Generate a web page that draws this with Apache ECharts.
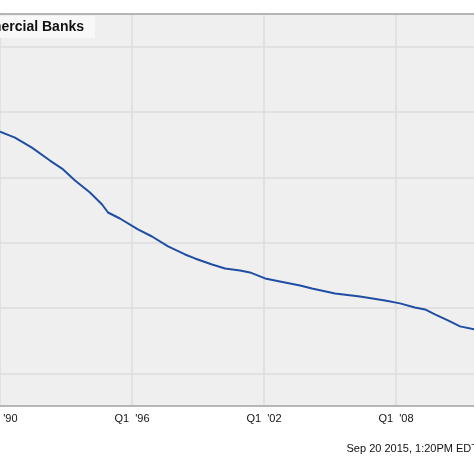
<!DOCTYPE html>
<html><head><meta charset="utf-8">
<script src="https://cdn.jsdelivr.net/npm/echarts@6/dist/echarts.min.js"></script>
<style>html,body{margin:0;padding:0;background:#fff}#c{width:474px;height:474px}</style>
</head><body><div id="c"></div>
<script>
// x: years since Q1 1990
const years = [0,0.68,1.45,2.27,2.82,3.41,4.09,4.64,4.91,5.45,6.27,6.91,7.64,8.41,8.86,9.64,10.23,10.91,11.36,12.05,12.95,13.64,14.18,15.23,16.36,17.5,18.18,18.86,19.32,19.77,20.36,20.91,21.55,22.1];
const banks = [11400,11217,10911,10514,10269,9902,9535,9168,8923,8740,8404,8189,7884,7639,7517,7333,7211,7150,7089,6905,6783,6691,6599,6446,6355,6232,6141,6018,5957,5804,5621,5437,5346,5250];
const titleText = 'Commercial Banks';
const stampText = 'Sep 20 2015, 1:20PM EDT';
const chart = echarts.init(document.getElementById('c'));
chart.setOption({
  animation:false,
  grid:{left:-132,top:14,width:660,height:392,show:true,backgroundColor:'#efefef',borderWidth:0,
    containLabel:false,outerBoundsMode:'none'},
  xAxis:{type:'value',min:-6,max:24,interval:6,
    axisLine:{show:true,lineStyle:{color:'#b5b5b5',width:2}},axisTick:{show:false},
    axisLabel:{color:'#111',fontSize:11,fontFamily:'Liberation Sans',margin:7,
      formatter:v=>"Q1  '"+String((1990+v)%100).padStart(2,'0')},
    splitLine:{show:true,lineStyle:{color:'#dcdcdc',width:1.5}}},
  yAxis:{type:'value',min:3000,max:15000,splitNumber:6,
    axisLine:{show:false},axisTick:{show:false},axisLabel:{show:false},
    splitLine:{show:true,lineStyle:{color:'#dcdcdc',width:1.5}}},
  graphic:[
    {type:'line',shape:{x1:0,y1:14,x2:474,y2:14},style:{stroke:'#b5b5b5',lineWidth:2},z:10},
    {type:'rect',shape:{x:0,y:16,width:95,height:22},style:{fill:'#f8f8f8'},z:10},
    {type:'text',x:84,y:27,style:{text:titleText,align:'right',verticalAlign:'middle',font:'bold 14px "Liberation Sans"',fill:'#111'},z:11},
    {type:'text',x:478,y:449,style:{text:stampText,align:'right',verticalAlign:'middle',font:'11px "Liberation Sans"',fill:'#111'},z:11}
  ],
  series:[{type:'line',data:years.map((t,i)=>[t,banks[i]]),showSymbol:false,
    lineStyle:{color:'#1f4ea3',width:2},clip:true}]
});
</script></body></html>
